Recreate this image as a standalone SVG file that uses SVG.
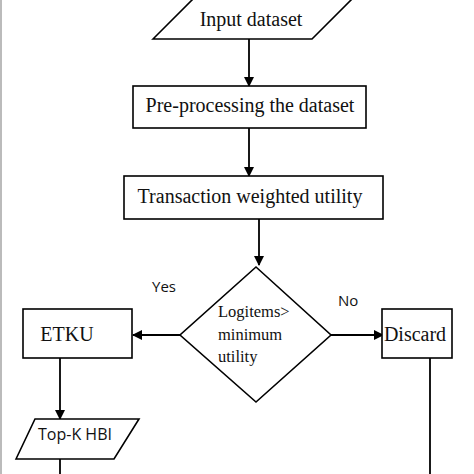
<svg xmlns="http://www.w3.org/2000/svg" width="474" height="474" viewBox="0 0 474 474">
<style>
.s{fill:#fff;stroke:#000;stroke-width:1.6}
.t{font-family:"Liberation Serif",serif;font-size:20px;fill:#111;text-anchor:middle}
.d{font-family:"Liberation Serif",serif;font-size:16.5px;fill:#111}
.c{font-family:"Open Sans","Liberation Sans",sans-serif;font-size:15px;fill:#111}
.l{fill:none;stroke:#000;stroke-width:1.8}
</style>
<defs>
<marker id="a" markerWidth="10" markerHeight="10" refX="9" refY="5" orient="auto" markerUnits="userSpaceOnUse">
<path d="M0,0 L10,5 L0,10 Z" fill="#000"/>
</marker>
</defs>
<rect x="0" y="0" width="474" height="474" fill="#fff"/>
<rect x="0" y="0" width="2" height="474" fill="#bbb"/>
<g id="connectors">
<line class="l" x1="249" y1="39" x2="249" y2="86" marker-end="url(#a)"/>
<line class="l" x1="249" y1="128" x2="249" y2="176" marker-end="url(#a)"/>
<line class="l" x1="259" y1="219" x2="259" y2="265" marker-end="url(#a)"/>
<line class="l" x1="180" y1="335" x2="133" y2="335" marker-end="url(#a)"/>
<line class="l" x1="331" y1="335" x2="383" y2="335" marker-end="url(#a)"/>
<line class="l" x1="60" y1="358" x2="60" y2="419" marker-end="url(#a)"/>
<line class="l" x1="60" y1="459" x2="60" y2="474"/>
<line class="l" x1="430" y1="358" x2="430" y2="474"/>
</g>
<g id="input">
<polygon class="s" points="153,39 193,-1 352,-1 312,39"/>
<text class="t" x="251" y="26">Input dataset</text>
</g>
<g id="preprocess">
<rect class="s" x="133" y="86" width="233" height="42"/>
<text class="t" x="250" y="112">Pre-processing the dataset</text>
</g>
<g id="twu">
<rect class="s" x="124" y="176" width="259" height="43"/>
<text class="t" x="250" y="203">Transaction weighted utility</text>
</g>
<g id="decision">
<polygon class="s" points="256,267 331,335 256,402 180,335"/>
<text class="d" x="218" y="317">Logitems&gt;</text>
<text class="d" x="218" y="340">minimum</text>
<text class="d" x="218" y="362">utility</text>
</g>
<g id="etku">
<rect class="s" x="23" y="309" width="109" height="49"/>
<text class="t" x="67" y="341">ETKU</text>
</g>
<g id="discard">
<rect class="s" x="382" y="309" width="70" height="49"/>
<text class="t" x="415" y="341">Discard</text>
</g>
<g id="topk">
<polygon class="s" points="16,459 35,419 139,419 114,459"/>
<text class="c" x="38" y="440" style="font-size:16px">Top-K HBI</text>
</g>
<g id="labels">
<text class="c" x="152" y="292">Yes</text>
<text class="c" x="338" y="306">No</text>
</g>
</svg>
